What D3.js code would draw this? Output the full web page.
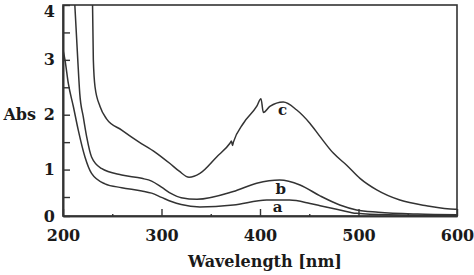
<!DOCTYPE html>
<html>
<head>
<meta charset="utf-8">
<script src="https://cdn.jsdelivr.net/npm/d3@7"></script>
<style>
  body { margin: 0; background: #fff; }
  text { font-family: "DejaVu Serif", serif; font-weight: bold; fill: #1a1a1a; }
</style>
</head>
<body>
<div id="chart"></div>
<script>
// Absorption spectra (wavelength nm, absorbance)
const aWl  = [200, 202, 205.4, 210.5, 215.5, 222.3, 229, 242.6, 259.6, 280, 290, 300, 310, 320, 339, 373, 406.8, 430, 450.8, 461, 481, 498, 530, 600];
const aAbs = [3.18, 3.0, 2.57, 2.15, 1.72, 1.23, 0.93, 0.74, 0.67, 0.61, 0.57, 0.49, 0.38, 0.30, 0.24, 0.29, 0.42, 0.42, 0.33, 0.27, 0.16, 0.07, 0.03, 0.01];

const bWl  = [212, 215, 217, 220.6, 224, 229, 239, 259.6, 280, 290, 300, 310, 320, 336, 372.9, 396.6, 420, 440.6, 461, 481, 498, 520, 560, 600];
const bAbs = [4.0, 3.0, 2.39, 1.96, 1.60, 1.23, 1.02, 0.90, 0.84, 0.79, 0.68, 0.56, 0.48, 0.44, 0.60, 0.75, 0.81, 0.72, 0.52, 0.29, 0.16, 0.10, 0.05, 0.03];

const cWl  = [230, 230.8, 232.5, 237.6, 244, 259.6, 276.5, 293.4, 308.6, 318, 328, 339, 356, 369.5, 371, 372, 373, 383, 396.6, 401, 403.4, 410, 423.6, 437, 450.8, 461, 474.4, 488, 501.5, 518.5, 542, 569, 598, 600];
const cAbs = [4.0, 3.0, 2.51, 2.15, 1.93, 1.72, 1.51, 1.32, 1.11, 0.97, 0.86, 0.93, 1.23, 1.48, 1.52, 1.44, 1.50, 1.84, 2.15, 2.29, 2.04, 2.15, 2.23, 2.09, 1.84, 1.60, 1.30, 1.08, 0.84, 0.63, 0.42, 0.27, 0.18, 0.18];

const curveNames = ["a", "b", "c"];
const labelWl  = [418, 421, 423];
const labelAbs = [0.23, 0.65, 2.09];

const xTicks = [200, 300, 400, 500, 600];
const xMinor = [250, 350, 450, 550];
const yTicks = [0, 1, 2, 3, 4];
const yMinor = [0.5, 1.5, 2.5, 3.5];

const W = 474, H = 275;
const pLeft = 63, pRight = 457, pTop = 5, pBottom = 216;

const svg = d3.select("#chart").append("svg")
  .attr("width", W)
  .attr("height", H);

const x = d3.scaleLinear().domain([200, 600]).range([pLeft, pRight]);
// the printed y axis is not evenly spaced below 0.5
const y = d3.scaleLinear().domain([0, 0.5, 4]).range([pBottom, 197, pTop]);

svg.append("clipPath").attr("id", "plot")
  .append("rect")
  .attr("x", pLeft).attr("y", pTop)
  .attr("width", pRight - pLeft).attr("height", pBottom - pTop);

// frame
svg.append("rect")
  .attr("x", pLeft).attr("y", pTop)
  .attr("width", pRight - pLeft).attr("height", pBottom - pTop)
  .attr("fill", "none")
  .attr("stroke", "#333")
  .attr("stroke-width", 1.6);

// bottom axis
svg.append("g")
  .attr("transform", "translate(0," + pBottom + ")")
  .call(d3.axisBottom(x).tickValues(xTicks).tickSizeInner(-7).tickSizeOuter(0).tickPadding(14));
svg.append("g")
  .attr("transform", "translate(0," + pBottom + ")")
  .call(d3.axisBottom(x).tickValues(xMinor).tickSizeInner(-2).tickSizeOuter(0).tickFormat(""));

// left axis
const yAxis = svg.append("g")
  .attr("transform", "translate(" + pLeft + ",0)")
  .call(d3.axisLeft(y).tickValues(yTicks).tickFormat(d3.format("d")).tickSizeInner(-7).tickSizeOuter(0).tickPadding(8));
svg.append("g")
  .attr("transform", "translate(" + pLeft + ",0)")
  .call(d3.axisLeft(y).tickValues(yMinor).tickSizeInner(-7).tickSizeOuter(0).tickFormat(""));

svg.selectAll(".domain").attr("stroke", "#333").attr("stroke-width", 1.6);
svg.selectAll(".tick line").attr("stroke", "#333").attr("stroke-width", 1.4);
svg.selectAll(".tick text")
  .style("font-family", "DejaVu Serif")
  .style("font-weight", "bold")
  .style("font-size", "16px")
  .attr("fill", "#1a1a1a");

// keep the top label inside the window
yAxis.selectAll(".tick text").filter(d => d === 4).attr("dy", "0.7em");

// curves
const line = d3.line()
  .x(d => x(d[0]))
  .y(d => y(d[1]))
  .curve(d3.curveMonotoneX);

const series = [d3.zip(aWl, aAbs), d3.zip(bWl, bAbs), d3.zip(cWl, cAbs)];

svg.append("g")
  .attr("clip-path", "url(#plot)")
  .selectAll("path")
  .data(series)
  .enter().append("path")
  .attr("d", line)
  .attr("fill", "none")
  .attr("stroke", "#333")
  .attr("stroke-width", 1.5);

// curve labels
svg.selectAll(".lbl")
  .data(curveNames)
  .enter().append("text")
  .attr("class", "lbl")
  .attr("x", (d, i) => x(labelWl[i]))
  .attr("y", (d, i) => y(labelAbs[i]))
  .attr("text-anchor", "middle")
  .attr("dominant-baseline", "central")
  .style("font-size", "15px")
  .text(d => d);

// axis titles
svg.append("text")
  .attr("x", 36)
  .attr("y", y(2))
  .attr("text-anchor", "end")
  .attr("dominant-baseline", "central")
  .style("font-size", "16px")
  .text("Abs");

svg.append("text")
  .attr("x", 265)
  .attr("y", 267)
  .attr("text-anchor", "middle")
  .style("font-size", "16px")
  .text("Wavelength [nm]");
</script>
</body>
</html>
